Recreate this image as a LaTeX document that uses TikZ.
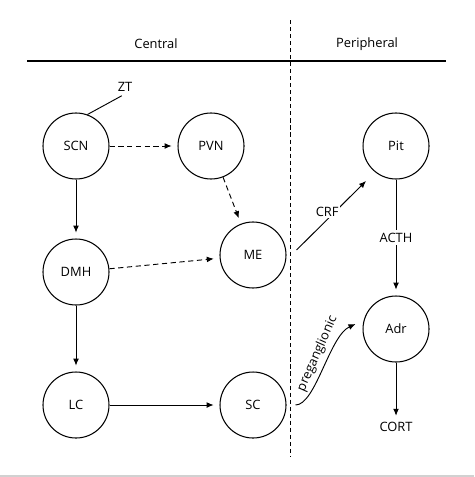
\documentclass[tikz,border=0pt]{standalone}
\usepackage{fontspec}
\setmainfont{Open Sans}
\usetikzlibrary{automata, positioning, arrows.meta, calc}
\tikzset{
node distance=4cm,
>={Latex[width=5pt,length=6pt]},
every state/.style={line width=0.9pt, minimum size=1.98cm, inner sep=0pt},
every node/.append style={font=\fontsize{11}{13}\selectfont},
flow/.style={->, line width=0.8pt, shorten >=5pt},
dashflow/.style={flow, dash pattern=on 4.5pt off 3pt},
}

\begin{document}
\begin{tikzpicture}[x=0.03cm, y=-0.03cm]
            \useasboundingbox (0,0) rectangle (474,477);
            \fill[black!18] (0,475) rectangle (474,477);

            % Header and divider
            \node (central) at (156,44) {Central};
            \node (periph) at (367,44) {Peripheral};
            \draw[line width=0.9pt] (27,61) -- (446,61);
            \draw[line width=0.8pt, dash pattern=on 3.5pt off 2.5pt] (290,20) -- (290,457);

            % Nodes
            \node[state] (SCN) at (76,146) {SCN};
            \node[state, right of=SCN, node distance=4.05cm] (PVN) {PVN};
            \node[state, right of=PVN, node distance=5.55cm] (Pit) {Pit};
            \node[state, below of=SCN, node distance=3.78cm] (DMH) {DMH};
            \node[state, below of=DMH, node distance=3.99cm] (LC) {LC};
            \node[state, right of=LC, node distance=5.31cm] (SC) {SC};
            \node[state] (ME) at (253,255) {ME};
            \node[state, below of=Pit, node distance=5.49cm] (Adr) {Adr};
            \node (ZT) at (125,87) {ZT};
            \node[below of=Adr, node distance=2.94cm] (CORT) {CORT};

            % Central side
            \draw[line width=0.8pt] (SCN.70) -- (ZT.250);
            \draw[dashflow] (SCN) -- (PVN);
            \draw[dashflow] (PVN) -- (ME);
            \draw[dashflow] (DMH) -- (ME);
            \draw[flow] (SCN) -- (DMH);
            \draw[flow] (DMH) -- (LC);
            \draw[flow] (LC) -- (SC);

            % Peripheral side
            \draw[flow, shorten >=0pt] ($(ME.east)+(10,-5)$) -- node[pos=.47, fill=white, inner sep=1pt, xshift=-1.7pt, yshift=4.8pt]{CRF} ($(Pit.center)+(-30,35)$);
            \draw[flow] (Pit) -- node[fill=white, inner sep=2pt]{ACTH} (Adr);
            \draw[flow, shorten >=0pt] ($(SC.east)+(9,0)$) .. controls +(20,0) and +(-26,12) .. node[pos=.5, xshift=-5pt, yshift=13pt, rotate=66]{preganglionic} ($(Adr.west)+(-7,-5)$);
            \draw[flow, shorten >=2pt] (Adr) -- (CORT);
\end{tikzpicture}
\end{document}
